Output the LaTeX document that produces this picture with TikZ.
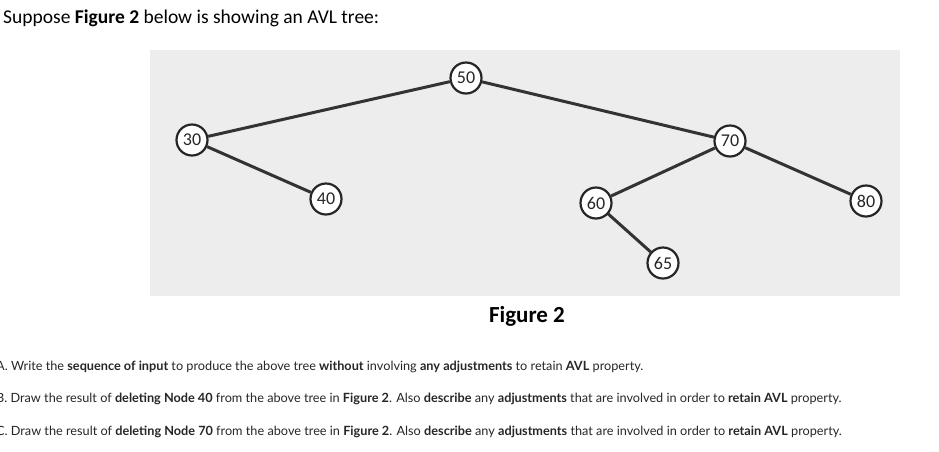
\documentclass[tikz,border=0pt]{standalone}
\usepackage{fontspec}
\setmainfont{Carlito}
\newfontfamily\latofont{Lato}
\begin{document}
\begin{tikzpicture}[x=1pt,y=-1pt,
  tn/.style={circle,draw=black!85,line width=2.2pt,fill=white,minimum size=31pt,inner sep=0pt,font=\fontsize{18}{18}\selectfont,text=black!85},
  ed/.style={draw=black!80,line width=3pt},
  qline/.style={anchor=west,font=\latofont\fontsize{12.7}{13}\selectfont,text=black!85,inner sep=0pt}]
\useasboundingbox (0,0) rectangle (939,451);
\clip (0,0) rectangle (939,451);
\fill[black!7] (150,50) rectangle (900,296);
\node[anchor=west,inner sep=0pt,font=\fontsize{19.5}{20}\selectfont] (title) at (3,18) {Suppose \textbf{Figure 2} below is showing an AVL tree:};
\node[tn] (n50) at (466,78) {50};
\node[tn] (n30) at (192,140) {30};
\node[tn] (n70) at (730,141) {70};
\node[tn] (n40) at (326,199) {40};
\node[tn] (n60) at (596,203) {60};
\node[tn] (n80) at (866,201) {80};
\node[tn] (n65) at (663,263) {65};
\draw[ed] (n50) -- (n30);
\draw[ed] (n50) -- (n70);
\draw[ed] (n30) -- (n40);
\draw[ed] (n70) -- (n60);
\draw[ed] (n70) -- (n80);
\draw[ed] (n60) -- (n65);
\node[font=\bfseries\fontsize{23}{24}\selectfont] (cap) at (527,316) {Figure 2};
\node[qline] (qa) at (-4,367) {A. Write the \textbf{sequence of input} to produce the above tree \textbf{without} involving \textbf{any adjustments} to retain \textbf{AVL} property.};
\node[qline] (qb) at (-4,399) {B. Draw the result of \textbf{deleting Node 40} from the above tree in \textbf{Figure 2}. Also \textbf{describe} any \textbf{adjustments} that are involved in order to \textbf{retain AVL} property.};
\node[qline] (qc) at (-4,432) {C. Draw the result of \textbf{deleting Node 70} from the above tree in \textbf{Figure 2}. Also \textbf{describe} any \textbf{adjustments} that are involved in order to \textbf{retain AVL} property.};
\end{tikzpicture}
\end{document}
